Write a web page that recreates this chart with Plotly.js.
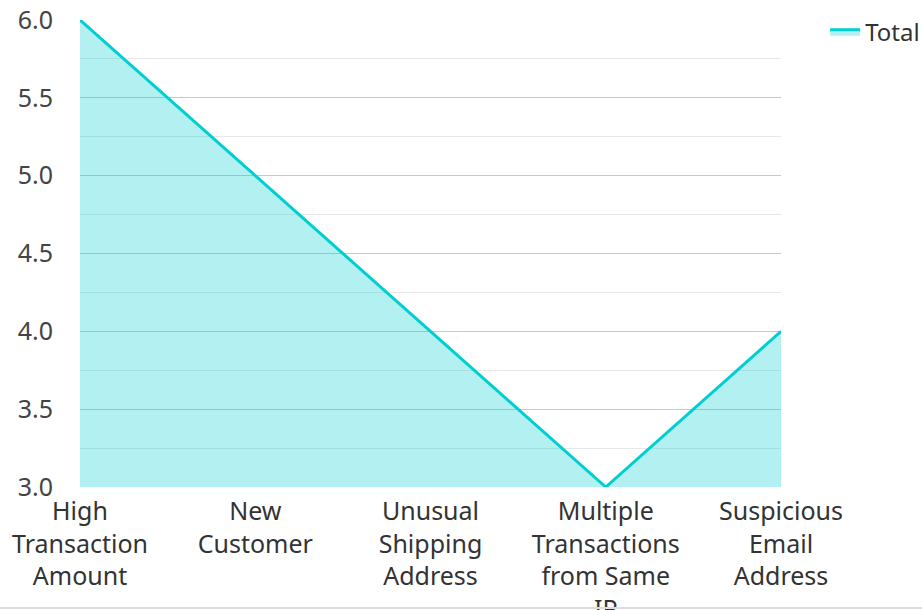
<!DOCTYPE html>
<html><head><meta charset="utf-8">
<script src="https://cdn.plot.ly/plotly-3.0.1.min.js"></script>
<style>html,body{margin:0;padding:0;background:#fff;overflow:hidden;}#chart{width:922px;height:610px;}</style>
</head><body><div id="chart"></div>
<script>
const categories = ["High Transaction Amount", "New Customer", "Unusual Shipping Address", "Multiple Transactions from Same IP", "Suspicious Email Address"];
const tickLabels = ["High<br>Transaction<br>Amount", "New<br>Customer", "Unusual<br>Shipping<br>Address", "Multiple<br>Transactions<br>from Same<br>IP", "Suspicious<br>Email<br>Address"];
const totals = [6, 5, 4, 3, 4];
const seriesName = "Total";

const trace = {
  x: categories, y: totals, name: seriesName, type: 'scatter', mode: 'lines',
  line: {color: '#00CED1', width: 3},
  fill: 'tozeroy', fillcolor: 'rgba(0,206,209,0.30)',
  hoverinfo: 'x+y'
};
const layout = {
  width: 922, height: 610,
  margin: {l: 80, r: 141, t: 20, b: 123, autoexpand: false},
  paper_bgcolor: '#fff', plot_bgcolor: '#fff',
  font: {family: '"Noto Sans", "Open Sans", sans-serif', size: 25, color: '#333'},
  xaxis: {type: 'category', range: [0, 4], tickmode: 'array', tickvals: categories, ticktext: tickLabels,
    showgrid: false, zeroline: false, showline: false, ticks: '', tickangle: 0, ticklabelstandoff: 7,
    tickfont: {size: 25, color: '#333'}, automargin: false},
  yaxis: {range: [3, 6], dtick: 0.5, tickformat: '.1f', showgrid: true, gridcolor: '#c8c8c8', gridwidth: 1,
    minor: {dtick: 0.25, showgrid: true, gridcolor: '#e8e8e8', gridwidth: 1},
    zeroline: false, showline: false, ticks: '', ticklabelstandoff: 26,
    tickfont: {size: 25, color: '#444'}, automargin: false},
  showlegend: true,
  legend: {x: 1.063, xanchor: 'left', y: 1.022, yanchor: 'top', xref: 'paper', yref: 'paper',
    font: {size: 24, color: '#333'}, bgcolor: 'rgba(0,0,0,0)'},
  shapes: [{type: 'line', xref: 'paper', yref: 'paper', x0: -0.2, x1: 1.4, y0: -121/467, y1: -121/467,
    line: {color: '#dddddd', width: 2}, layer: 'above'}]
};
Plotly.newPlot('chart', [trace], layout, {displayModeBar: false, staticPlot: true});
</script></body></html>
